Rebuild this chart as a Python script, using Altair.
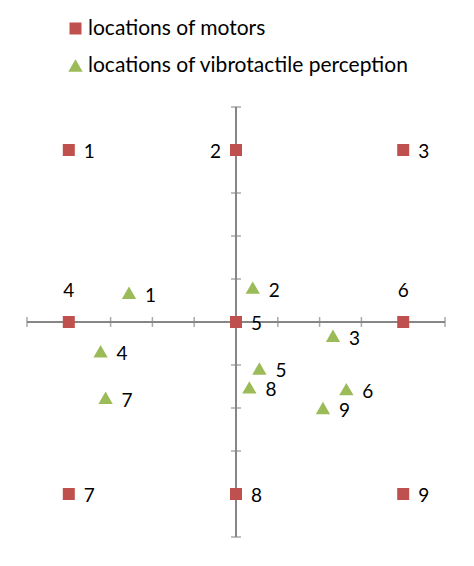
import altair as alt
import pandas as pd

# ---- data ----
series_names = ["locations of motors", "locations of vibrotactile perception"]
motor_labels = ["1", "2", "3", "4", "5", "6", "7", "8", "9"]
motor_x = [-1, 0, 1, -1, 0, 1, -1, 0, 1]
motor_y = [1, 1, 1, 0, 0, 0, -1, -1, -1]
perc_labels = ["1", "2", "3", "4", "5", "6", "7", "8", "9"]
perc_x = [-0.64, 0.10, 0.58, -0.81, 0.14, 0.66, -0.78, 0.08, 0.52]
perc_y = [0.17, 0.20, -0.08, -0.17, -0.27, -0.39, -0.44, -0.38, -0.50]
tick_values = [-1.25, -1.0, -0.75, -0.5, -0.25, 0.0, 0.25, 0.5, 0.75, 1.0, 1.25]
axis_min, axis_max = -1.25, 1.25

motors = pd.DataFrame({"x": motor_x, "y": motor_y, "label": motor_labels, "series": series_names[0]})
percs = pd.DataFrame({"x": perc_x, "y": perc_y, "label": perc_labels, "series": series_names[1]})
points = pd.concat([motors, percs], ignore_index=True)
ticks = pd.DataFrame({"v": tick_values})

FONT = "Lato"
RED = "#C0504D"
GREEN = "#9BBB59"
AXIS = "#868686"

xs = alt.Scale(domain=[axis_min, axis_max], nice=False, zero=False)
ys = alt.Scale(domain=[axis_min, axis_max], nice=False, zero=False)

legend = alt.Legend(
    title=None, orient="none", legendX=38, legendY=-89, padding=0,
    labelFont=FONT, labelFontSize=21, labelColor="#000000", labelOffset=2, labelLimit=0,
    rowPadding=15, symbolStrokeWidth=0, symbolOpacity=1,
)

hline = alt.Chart(ticks).mark_rule(color=AXIS, strokeWidth=1.5).encode(
    x=alt.datum(axis_min, scale=xs, axis=None), x2=alt.datum(axis_max), y=alt.datum(0, scale=ys, axis=None)
)
vline = alt.Chart(ticks).mark_rule(color=AXIS, strokeWidth=1.5).encode(
    y=alt.datum(axis_min, scale=ys, axis=None), y2=alt.datum(axis_max), x=alt.datum(0, scale=xs, axis=None)
)
xticks = alt.Chart(ticks).mark_tick(orient="vertical", color=AXIS, size=10, thickness=1.5).encode(
    x=alt.X("v:Q", scale=xs, axis=None), y=alt.datum(0, scale=ys, axis=None)
)
yticks = alt.Chart(ticks).mark_tick(orient="horizontal", color=AXIS, size=10, thickness=1.5).encode(
    y=alt.Y("v:Q", scale=ys, axis=None), x=alt.datum(0, scale=xs, axis=None)
)

pts = alt.Chart(points).mark_point(filled=True, opacity=1).encode(
    x=alt.X("x:Q", scale=xs, axis=None),
    y=alt.Y("y:Q", scale=ys, axis=None),
    color=alt.Color("series:N", scale=alt.Scale(domain=series_names, range=[RED, GREEN]), legend=legend),
    shape=alt.Shape("series:N", scale=alt.Scale(domain=series_names, range=["square", "triangle-up"]), legend=legend),
    size=alt.Size("series:N", scale=alt.Scale(domain=series_names, range=[144, 205]), legend=legend),
)

def labels(df, dx, dy, align):
    return alt.Chart(df).mark_text(
        font=FONT, fontSize=19, color="#000000", align=align, baseline="middle", dx=dx, dy=dy
    ).encode(
        x=alt.X("x:Q", scale=xs, axis=None), y=alt.Y("y:Q", scale=ys, axis=None), text="label:N"
    )

m_right = motors[motors["label"].isin(["1", "3", "5", "7", "8", "9"])]
m_left = motors[motors["label"].isin(["2"])]
m_above = motors[motors["label"].isin(["4", "6"])]

chart = alt.layer(
    hline, vline, xticks, yticks, pts,
    labels(m_right, 15, 2, "left"),
    labels(m_left, -15, 2, "right"),
    labels(m_above, 0, -31, "center"),
    labels(percs, 16, 3, "left"),
).properties(
    width=418, height=430,
    padding={"left": 19, "top": 99, "right": 20, "bottom": 10},
    autosize=alt.AutoSizeParams(type="none"),
    background="#ffffff",
).configure_view(strokeWidth=0)

chart.save("out.html", embed_options={"renderer": "svg", "actions": False})
